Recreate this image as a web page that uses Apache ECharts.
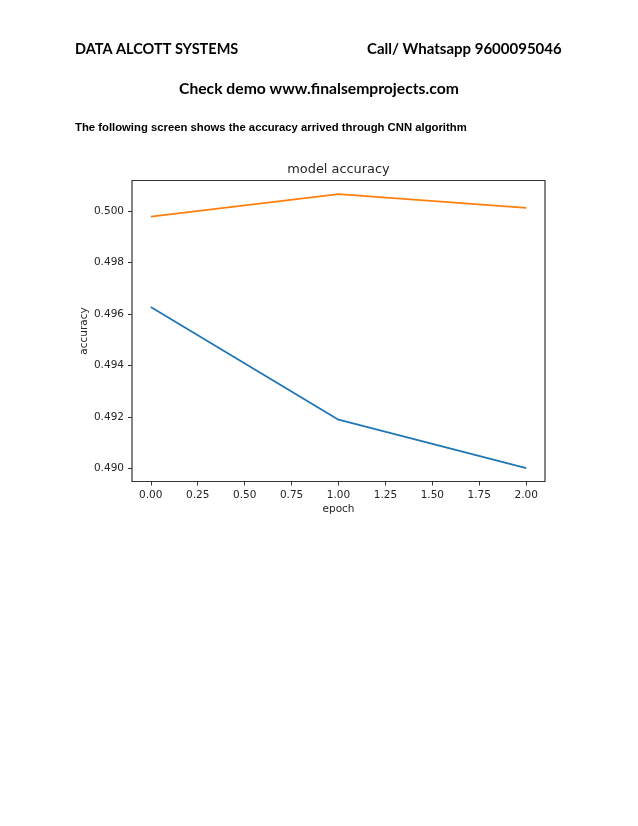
<!DOCTYPE html>
<html>
<head>
<meta charset="utf-8">
<style>
  html, body { margin: 0; padding: 0; background: #fff; }
  #chart { width: 638px; height: 826px; }
</style>
<script src="https://cdn.jsdelivr.net/npm/echarts@6/dist/echarts.min.js"></script>
</head>
<body>
<div id="chart"></div>
<script>
// values
var epochs = [0, 1, 2];
var trainAcc = [0.49627, 0.4919, 0.49002];
var valAcc = [0.49978, 0.50065, 0.50012];
var xTicks = [0, 0.25, 0.5, 0.75, 1, 1.25, 1.5, 1.75, 2];
var yTicks = [0.49, 0.492, 0.494, 0.496, 0.498, 0.5];

var axisFont = 'DejaVu Sans';
var textColor = '#262626';

function pairs(xs, ys) {
  return xs.map(function (x, i) { return [x, ys[i]]; });
}

var chart = echarts.init(document.getElementById('chart'), null, { renderer: 'canvas' });

chart.setOption({
  animation: false,
  backgroundColor: '#fff',
  title: [
    { text: 'DATA ALCOTT SYSTEMS', left: 75, top: 42, padding: 0, textStyle: { fontFamily: 'Lato', fontSize: 14.5, fontWeight: 'bold', color: '#000' } },
    { text: 'Call/ Whatsapp 9600095046', left: 367, top: 42, padding: 0, textStyle: { fontFamily: 'Lato', fontSize: 15, fontWeight: 'bold', color: '#000' } },
    { text: 'Check demo www.finalsemprojects.com', left: 179, top: 81, padding: 0, textStyle: { fontFamily: 'Lato', fontSize: 15.7, fontWeight: 'bold', color: '#000' } },
    { text: 'The following screen shows the accuracy arrived through CNN algorithm', left: 75, top: 122, padding: 0, textStyle: { fontFamily: 'Liberation Sans', fontSize: 11.3, fontWeight: 'bold', color: '#000' } },
    { text: 'model accuracy', left: 338.5, textAlign: 'center', top: 163, padding: 0, textStyle: { fontFamily: axisFont, fontSize: 12.9, fontWeight: 'normal', color: textColor } }
  ],
  grid: {
    show: true,
    left: 132,
    top: 180.5,
    width: 413,
    height: 301,
    borderColor: '#333',
    borderWidth: 1.2,
    backgroundColor: '#fff'
  },
  xAxis: {
    type: 'value',
    min: -0.1,
    max: 2.1,
    name: 'epoch',
    nameLocation: 'middle',
    nameGap: 22,
    nameMoveOverlap: false,
    nameTextStyle: { fontFamily: axisFont, fontSize: 10.5, color: textColor },
    splitLine: { show: false },
    axisLine: { show: false, onZero: false },
    axisTick: { show: true, length: 4, customValues: xTicks, lineStyle: { color: '#333', width: 1 } },
    axisLabel: {
      customValues: xTicks,
      margin: 8,
      hideOverlap: false,
      fontFamily: axisFont,
      fontSize: 10.5,
      color: textColor,
      formatter: function (v) { return v.toFixed(2); }
    }
  },
  yAxis: {
    type: 'value',
    min: 0.4895,
    max: 0.50118,
    name: 'accuracy',
    nameLocation: 'middle',
    nameGap: 42,
    nameMoveOverlap: false,
    nameTextStyle: { fontFamily: axisFont, fontSize: 10.5, color: textColor },
    splitLine: { show: false },
    axisLine: { show: false, onZero: false },
    axisTick: { show: true, length: 4, customValues: yTicks, lineStyle: { color: '#333', width: 1 } },
    axisLabel: {
      customValues: yTicks,
      margin: 8,
      hideOverlap: false,
      fontFamily: axisFont,
      fontSize: 10.5,
      color: textColor,
      formatter: function (v) { return v.toFixed(3); }
    }
  },
  series: [
    {
      name: 'acc',
      type: 'line',
      data: pairs(epochs, trainAcc),
      symbol: 'none',
      lineStyle: { color: '#1f77b4', width: 1.8 }
    },
    {
      name: 'val_acc',
      type: 'line',
      data: pairs(epochs, valAcc),
      symbol: 'none',
      lineStyle: { color: '#ff7f0e', width: 1.8 }
    }
  ]
});
</script>
</body>
</html>
